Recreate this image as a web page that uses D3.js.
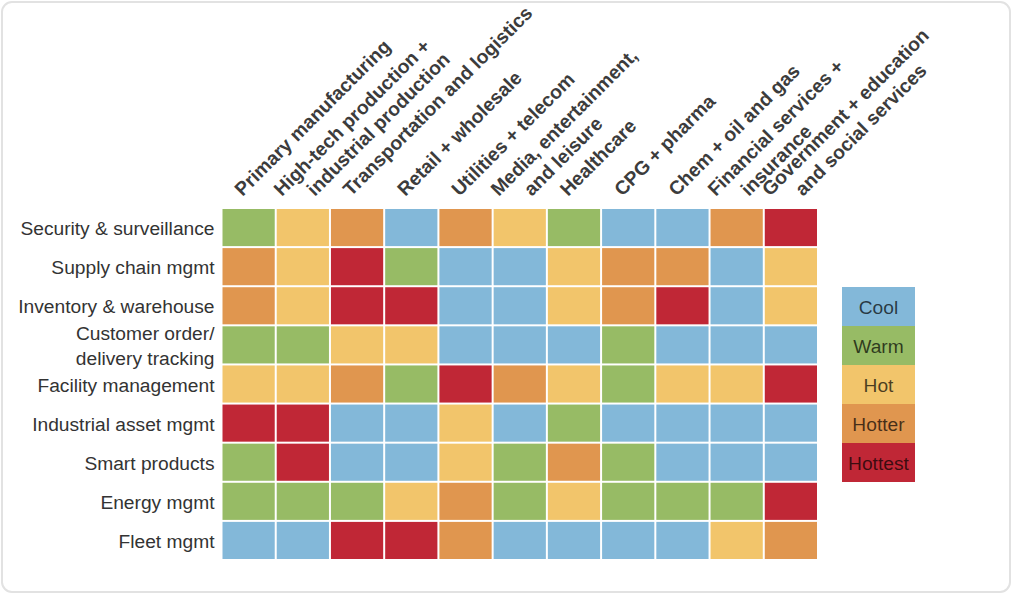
<!DOCTYPE html>
<html>
<head>
<meta charset="utf-8">
<script src="https://cdn.jsdelivr.net/npm/d3@7"></script>
<style>
  body { margin: 0; background: #fff; }
  text { font-family: "Liberation Sans", Arial, sans-serif; fill: #333; }
</style>
</head>
<body>
<script>
// industries (columns), each label split into its lines
const industries = [
  ["Primary manufacturing"],
  ["High-tech production +", "industrial production"],
  ["Transportation and logistics"],
  ["Retail + wholesale"],
  ["Utilities + telecom"],
  ["Media, entertainment,", "and leisure"],
  ["Healthcare"],
  ["CPG + pharma"],
  ["Chem + oil and gas"],
  ["Financial services +", "insurance"],
  ["Government + education", "and social services"]
];

// use cases (rows)
const useCases = [
  ["Security & surveillance"],
  ["Supply chain mgmt"],
  ["Inventory & warehouse"],
  ["Customer order/", "delivery tracking"],
  ["Facility management"],
  ["Industrial asset mgmt"],
  ["Smart products"],
  ["Energy mgmt"],
  ["Fleet mgmt"]
];

const levels = ["Cool", "Warm", "Hot", "Hotter", "Hottest"];

// heat level per row, one entry per industry (0 = Cool ... 4 = Hottest)
const heat = [
  [1, 2, 3, 0, 3, 2, 1, 0, 0, 3, 4],
  [3, 2, 4, 1, 0, 0, 2, 3, 3, 0, 2],
  [3, 2, 4, 4, 0, 0, 2, 3, 4, 0, 2],
  [1, 1, 2, 2, 0, 0, 0, 1, 0, 0, 0],
  [2, 2, 3, 1, 4, 3, 2, 1, 2, 2, 4],
  [4, 4, 0, 0, 2, 0, 1, 0, 0, 0, 0],
  [1, 4, 0, 0, 2, 1, 3, 1, 0, 0, 0],
  [1, 1, 1, 2, 3, 1, 2, 1, 1, 1, 4],
  [0, 0, 4, 4, 3, 0, 0, 0, 0, 2, 3]
];

const width = 1012, height = 594;
const gridLeft = 221.5, gridRight = 818, gridTop = 208, gridBottom = 560;

const svg = d3.select("body").append("svg")
    .attr("width", width)
    .attr("height", height);

// light rounded frame round the picture
svg.append("rect")
    .attr("x", 2).attr("y", 2)
    .attr("width", width - 4).attr("height", height - 4)
    .attr("rx", 10)
    .style("fill", "#fff")
    .style("stroke", "#e2e2e2")
    .style("stroke-width", 2);

const x = d3.scaleBand()
    .domain(d3.range(industries.length))
    .range([gridLeft, gridRight]);

const y = d3.scaleBand()
    .domain(d3.range(useCases.length))
    .range([gridTop, gridBottom]);

const color = d3.scaleOrdinal()
    .domain(d3.range(levels.length))
    .range(["#83b8d9", "#97bb65", "#f2c56b", "#e0964f", "#c02736"]);

// cells
const cells = [];
heat.forEach(function(row, r) {
  row.forEach(function(v, c) { cells.push({ r: r, c: c, v: v }); });
});

svg.append("g").selectAll("rect")
    .data(cells)
    .enter().append("rect")
    .attr("x", function(d) { return x(d.c) + 1; })
    .attr("y", function(d) { return y(d.r) + 1; })
    .attr("width", x.bandwidth() - 2)
    .attr("height", y.bandwidth() - 2)
    .style("fill", function(d) { return color(d.v); });

// row labels
const rowLabels = svg.append("g").selectAll("text")
    .data(useCases)
    .enter().append("text")
    .attr("text-anchor", "end")
    .style("font-size", "19.2px");

rowLabels.each(function(lines, i) {
  const cy = y(i) + y.bandwidth() / 2;
  const lh = 25;
  const first = cy - (lines.length - 1) * lh / 2 + 7.5;
  d3.select(this).selectAll("tspan")
      .data(lines)
      .enter().append("tspan")
      .attr("x", gridLeft - 7)
      .attr("y", function(d, k) { return first + k * lh; })
      .text(function(d) { return d; });
});

// rotated column labels, one text per line
const colLabels = svg.append("g");
industries.forEach(function(lines, i) {
  const cx = x(i) + x.bandwidth() / 2;
  lines.forEach(function(line, k) {
    let ax;
    if (lines.length == 1) ax = cx - 6;
    else ax = k == 0 ? cx - 21 : cx + 12;
    colLabels.append("text")
        .attr("transform", "translate(" + ax + ",197) rotate(-45)")
        .style("font-size", "19.3px")
        .style("font-weight", "bold")
        .style("fill", "#3c3c3c")
        .text(line);
  });
});

// legend
const ly = d3.scaleBand()
    .domain(d3.range(levels.length))
    .range([287, 482]);

const legend = svg.append("g").selectAll("g")
    .data(levels)
    .enter().append("g");

legend.append("rect")
    .attr("x", 842)
    .attr("y", function(d, i) { return ly(i); })
    .attr("width", 73)
    .attr("height", ly.bandwidth())
    .style("fill", function(d, i) { return color(i); });

legend.append("text")
    .attr("x", 878.5)
    .attr("y", function(d, i) { return ly(i) + ly.bandwidth() / 2 + 7; })
    .attr("text-anchor", "middle")
    .style("font-size", "19.2px")
    .style("fill", "#000")
    .style("fill-opacity", 0.7)
    .text(function(d) { return d; });
</script>
</body>
</html>
